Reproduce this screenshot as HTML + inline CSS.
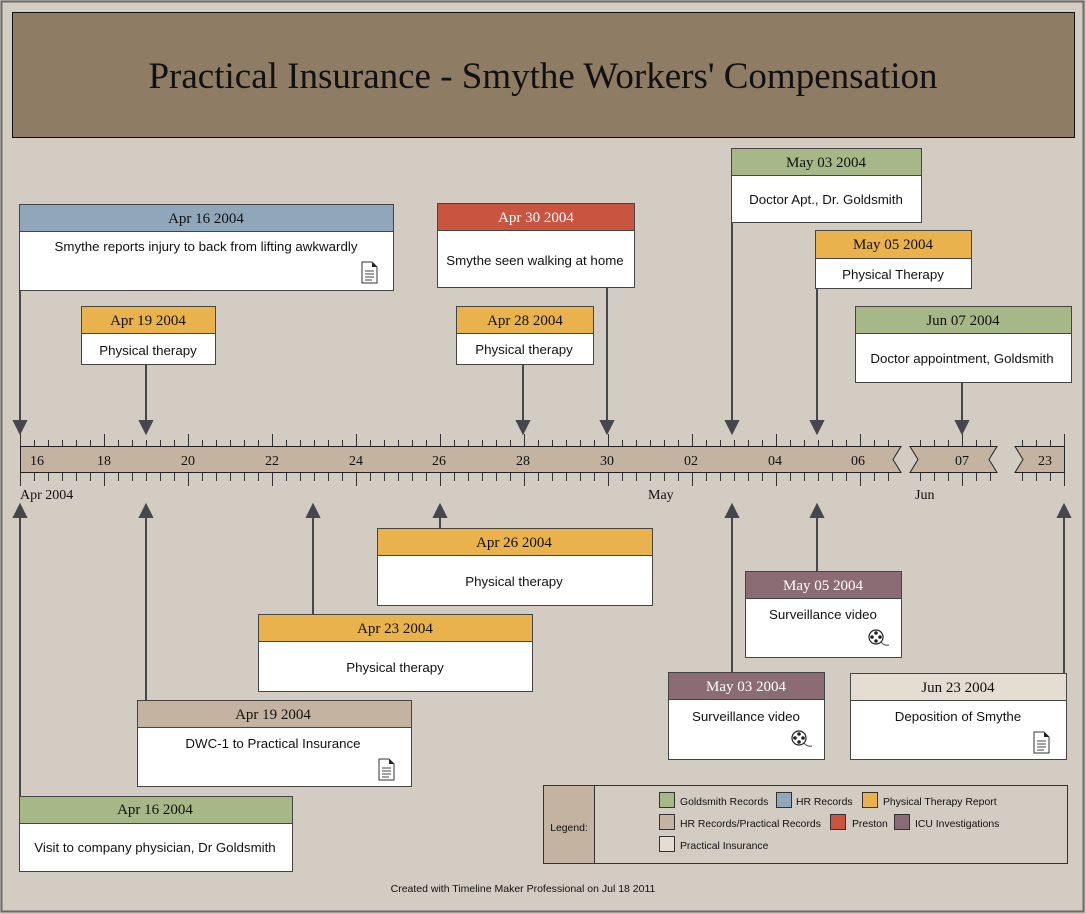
<!DOCTYPE html>
<html><head><meta charset="utf-8">
<style>
html,body{margin:0;padding:0;}
body{width:1086px;height:914px;background:#d3ccc2;overflow:hidden;}
svg{display:block;}
.h{font-family:"Liberation Serif",serif;font-size:15px;text-anchor:middle;fill:#111;}
.hw{fill:#fff;}
.t{font-family:"Liberation Sans",sans-serif;font-size:13.3px;text-anchor:middle;fill:#111;}
.ax{font-family:"Liberation Serif",serif;font-size:14px;text-anchor:middle;fill:#111;}
.lg{font-family:"Liberation Sans",sans-serif;font-size:10.4px;fill:#111;}
</style></head><body>
<svg width="1086" height="914" viewBox="0 0 1086 914" xmlns="http://www.w3.org/2000/svg">
<defs>
<g id="doc"><path d="M0 0h10l5 5v16H0z" fill="#fff" stroke="#333" stroke-width="1"/><path d="M10 0v5h5" fill="#222"/><path d="M3 9h9M3 12h9M3 15h9M3 18h7" stroke="#444"/></g>
<g id="film"><circle cx="7" cy="7" r="7" fill="#fff" stroke="#222" stroke-width="1.2"/><circle cx="7" cy="3" r="1.8" fill="#222"/><circle cx="7" cy="11" r="1.8" fill="#222"/><circle cx="3" cy="7" r="1.8" fill="#222"/><circle cx="11" cy="7" r="1.8" fill="#222"/><path d="M12 12q3 4 8 3" fill="none" stroke="#444"/></g>
</defs>
<rect x="1.5" y="1.5" width="1082" height="910" fill="#d3ccc2" stroke="#6a6a6a" stroke-width="2"/>
<rect x="12.5" y="12.5" width="1062" height="125" fill="#8e7c64" stroke="#111" stroke-width="1"/>
<text x="543" y="88" font-family="Liberation Serif,serif" font-size="37" text-anchor="middle" fill="#111">Practical Insurance - Smythe Workers' Compensation</text>

<g stroke="#45474c" stroke-width="2" fill="#45474c">
<line x1="20" y1="291" x2="20" y2="422"/><path d="M14 421h12l-6 12z"/>
<line x1="146" y1="365" x2="146" y2="422"/><path d="M140 421h12l-6 12z"/>
<line x1="523" y1="365" x2="523" y2="422"/><path d="M517 421h12l-6 12z"/>
<line x1="607" y1="288" x2="607" y2="422"/><path d="M601 421h12l-6 12z"/>
<line x1="732" y1="222" x2="732" y2="422"/><path d="M726 421h12l-6 12z"/>
<line x1="817" y1="289" x2="817" y2="422"/><path d="M811 421h12l-6 12z"/>
<line x1="962" y1="383" x2="962" y2="422"/><path d="M956 421h12l-6 12z"/>
<line x1="20" y1="516" x2="20" y2="796"/><path d="M14 517h12l-6 -12z"/>
<line x1="146" y1="516" x2="146" y2="700"/><path d="M140 517h12l-6 -12z"/>
<line x1="313" y1="516" x2="313" y2="614"/><path d="M307 517h12l-6 -12z"/>
<line x1="440" y1="516" x2="440" y2="528"/><path d="M434 517h12l-6 -12z"/>
<line x1="732" y1="516" x2="732" y2="672"/><path d="M726 517h12l-6 -12z"/>
<line x1="817" y1="516" x2="817" y2="571"/><path d="M811 517h12l-6 -12z"/>
<line x1="1064" y1="516" x2="1064" y2="673"/><path d="M1058 517h12l-6 -12z"/>
</g>

<path d="M20.5 446.5H901l-8 13 8 13H20.5z" fill="#c3b3a0" stroke="#222" stroke-width="1"/>
<path d="M910 446.5H997l-8 13 8 13H910l8-13z" fill="#c3b3a0" stroke="#222" stroke-width="1"/>
<path d="M1015 446.5H1064.5v26H1015l8-13z" fill="#c3b3a0" stroke="#222" stroke-width="1"/>
<g id="ticks" stroke="#333" stroke-width="1"></g>
<text class="ax" x="37" y="465">16</text>
<text class="ax" x="104" y="465">18</text>
<text class="ax" x="188" y="465">20</text>
<text class="ax" x="272" y="465">22</text>
<text class="ax" x="356" y="465">24</text>
<text class="ax" x="439" y="465">26</text>
<text class="ax" x="523" y="465">28</text>
<text class="ax" x="607" y="465">30</text>
<text class="ax" x="691" y="465">02</text>
<text class="ax" x="775" y="465">04</text>
<text class="ax" x="858" y="465">06</text>
<text class="ax" x="962" y="465">07</text>
<text class="ax" x="1045" y="465">23</text>
<text class="ax" x="20" y="499" style="text-anchor:start">Apr 2004</text>
<text class="ax" x="648" y="499" style="text-anchor:start">May</text>
<text class="ax" x="915" y="499" style="text-anchor:start">Jun</text>

<g stroke="#444" stroke-width="1">
<rect x="19.5" y="204.5" width="374" height="86" fill="#fff"/><rect x="19.5" y="204.5" width="374" height="27" fill="#8fa6bb"/>
<rect x="81.5" y="306.5" width="134" height="58" fill="#fff"/><rect x="81.5" y="306.5" width="134" height="27" fill="#e9b24d"/>
<rect x="437.5" y="203.5" width="197" height="84" fill="#fff"/><rect x="437.5" y="203.5" width="197" height="27" fill="#c95440"/>
<rect x="456.5" y="306.5" width="137" height="58" fill="#fff"/><rect x="456.5" y="306.5" width="137" height="27" fill="#e9b24d"/>
<rect x="731.5" y="148.5" width="190" height="74" fill="#fff"/><rect x="731.5" y="148.5" width="190" height="27" fill="#a6b788"/>
<rect x="815.5" y="230.5" width="156" height="58" fill="#fff"/><rect x="815.5" y="230.5" width="156" height="28" fill="#e9b24d"/>
<rect x="855.5" y="306.5" width="216" height="76" fill="#fff"/><rect x="855.5" y="306.5" width="216" height="27" fill="#a6b788"/>
<rect x="377.5" y="528.5" width="275" height="77" fill="#fff"/><rect x="377.5" y="528.5" width="275" height="27" fill="#e9b24d"/>
<rect x="258.5" y="614.5" width="274" height="77" fill="#fff"/><rect x="258.5" y="614.5" width="274" height="27" fill="#e9b24d"/>
<rect x="137.5" y="700.5" width="274" height="86" fill="#fff"/><rect x="137.5" y="700.5" width="274" height="27" fill="#c3b3a0"/>
<rect x="19.5" y="796.5" width="273" height="75" fill="#fff"/><rect x="19.5" y="796.5" width="273" height="27" fill="#a6b788"/>
<rect x="745.5" y="571.5" width="156" height="86" fill="#fff"/><rect x="745.5" y="571.5" width="156" height="27" fill="#8b6c75"/>
<rect x="668.5" y="672.5" width="156" height="87" fill="#fff"/><rect x="668.5" y="672.5" width="156" height="27" fill="#8b6c75"/>
<rect x="850.5" y="673.5" width="216" height="86" fill="#fff"/><rect x="850.5" y="673.5" width="216" height="27" fill="#e5ddd1"/>
</g>

<text class="h" x="206" y="223">Apr 16 2004</text><text class="t" x="206" y="251">Smythe reports injury to back from lifting awkwardly</text>
<use href="#doc" x="362" y="262"/>
<text class="h" x="148" y="325">Apr 19 2004</text><text class="t" x="148" y="355">Physical therapy</text>
<text class="h hw" x="536" y="222">Apr 30 2004</text><text class="t" x="535" y="265">Smythe seen walking at home</text>
<text class="h" x="525" y="325">Apr 28 2004</text><text class="t" x="524" y="354">Physical therapy</text>
<text class="h" x="826" y="167">May 03 2004</text><text class="t" x="826" y="204">Doctor Apt., Dr. Goldsmith</text>
<text class="h" x="893" y="249">May 05 2004</text><text class="t" x="893" y="279">Physical Therapy</text>
<text class="h" x="963" y="325">Jun 07 2004</text><text class="t" x="962" y="363">Doctor appointment, Goldsmith</text>

<text class="h" x="514" y="547">Apr 26 2004</text><text class="t" x="514" y="586">Physical therapy</text>
<text class="h" x="395" y="633">Apr 23 2004</text><text class="t" x="395" y="672">Physical therapy</text>
<text class="h" x="273" y="719">Apr 19 2004</text><text class="t" x="273" y="748">DWC-1 to Practical Insurance</text>
<use href="#doc" x="379" y="759"/>
<text class="h" x="155" y="814">Apr 16 2004</text><text class="t" x="155" y="852">Visit to company physician, Dr Goldsmith</text>
<text class="h hw" x="823" y="590">May 05 2004</text><text class="t" x="823" y="619">Surveillance video</text>
<use href="#film" x="869" y="630"/>
<text class="h hw" x="746" y="691">May 03 2004</text><text class="t" x="746" y="721">Surveillance video</text>
<use href="#film" x="792" y="731"/>
<text class="h" x="958" y="692">Jun 23 2004</text><text class="t" x="958" y="721">Deposition of Smythe</text>
<use href="#doc" x="1034" y="732"/>

<rect x="543.5" y="785.5" width="524" height="78" fill="none" stroke="#333" stroke-width="1"/>
<rect x="543.5" y="785.5" width="51" height="78" fill="#c3b3a0" stroke="#333" stroke-width="1"/>
<text class="lg" x="569" y="831" text-anchor="middle">Legend:</text>
<g stroke="#333" stroke-width="1">
<rect x="659.5" y="792.5" width="15" height="15" fill="#a6b788"/>
<rect x="776.5" y="792.5" width="15" height="15" fill="#8fa6bb"/>
<rect x="862.5" y="792.5" width="15" height="15" fill="#e9b24d"/>
<rect x="659.5" y="814.5" width="15" height="15" fill="#c3b3a0"/>
<rect x="830.5" y="814.5" width="15" height="15" fill="#c95440"/>
<rect x="894.5" y="814.5" width="15" height="15" fill="#8b6c75"/>
<rect x="659.5" y="836.5" width="15" height="15" fill="#e5ddd1"/>
</g>
<text class="lg" x="680" y="805">Goldsmith Records</text>
<text class="lg" x="796" y="805">HR Records</text>
<text class="lg" x="883" y="805">Physical Therapy Report</text>
<text class="lg" x="680" y="827">HR Records/Practical Records</text>
<text class="lg" x="852" y="827">Preston</text>
<text class="lg" x="915" y="827">ICU Investigations</text>
<text class="lg" x="680" y="849">Practical Insurance</text>
<text x="523" y="892" font-family="Liberation Sans,sans-serif" font-size="10.5" text-anchor="middle" fill="#111">Created with Timeline Maker Professional on Jul 18 2011</text>
</svg>
<script>
var g=document.getElementById('ticks'),s='';
function t(x,maj){s+='<line x1="'+x+'.5" y1="'+(maj?434:440)+'" x2="'+x+'.5" y2="446"/><line x1="'+x+'.5" y1="473" x2="'+x+'.5" y2="'+(maj?486:481)+'"/>';}
for(var i=0;20+i*14<=888;i++){t(20+i*14,i%6==0);}
[920,934,948,976,990].forEach(function(x){t(x,false)});t(962,true);
[1022,1036,1050].forEach(function(x){t(x,false)});t(1064,true);
g.innerHTML=s;
</script>
</body></html>
